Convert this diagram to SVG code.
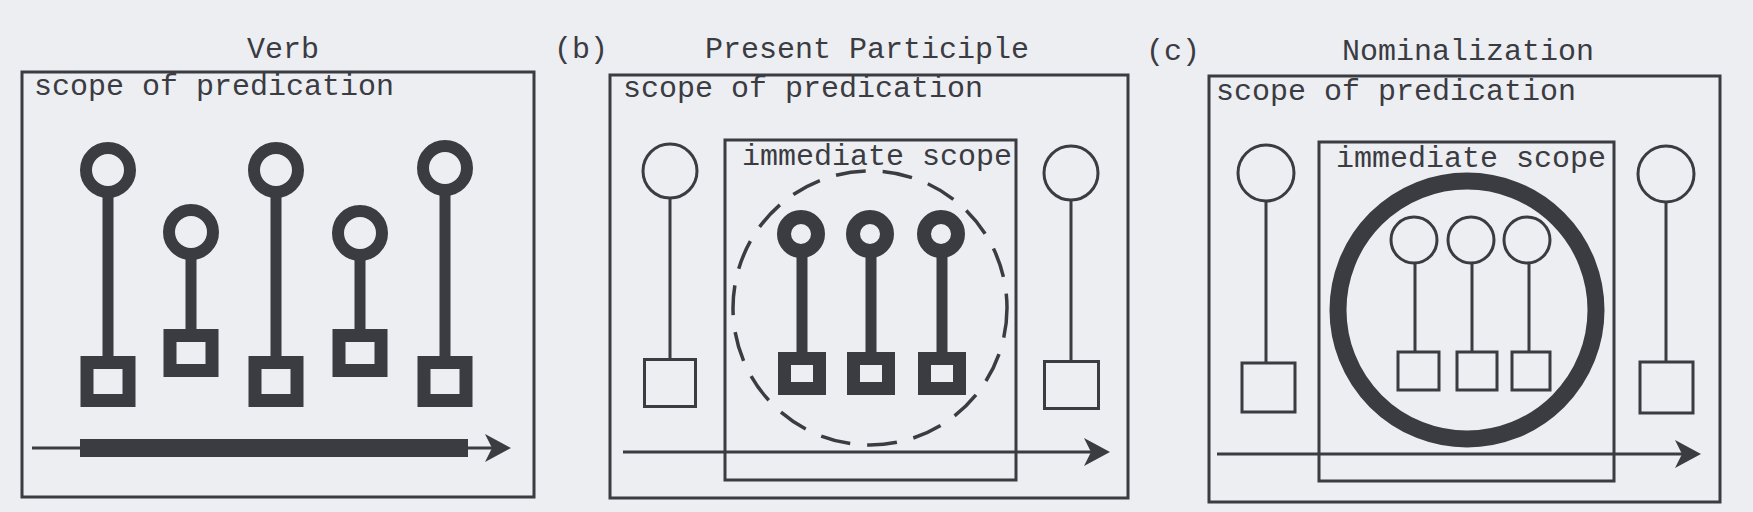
<svg xmlns="http://www.w3.org/2000/svg" width="1753" height="512" viewBox="0 0 1753 512">
<defs>
<style>
.bg{fill:#eceef2}
.box{fill:none;stroke:#3b3b42;stroke-width:3}
.txt{font-family:"Liberation Mono","Courier New",monospace;font-size:30px;fill:#3b3b42}
.ring{fill:none;stroke:#3b3b42;stroke-width:12}
.ringb{fill:none;stroke:#3b3b42;stroke-width:14}
.stem{stroke:#3b3b42;stroke-width:11}
.sq{fill:none;stroke:#3b3b42;stroke-width:13}
.tc{fill:none;stroke:#3b3b42;stroke-width:3}
.tl{stroke:#3b3b42;stroke-width:3}
.axis{stroke:#3b3b42;stroke-width:3;fill:none}
.ink{fill:#3b3b42}
</style>
<marker id="ah" markerUnits="userSpaceOnUse" markerWidth="28" markerHeight="30" refX="22" refY="14" orient="auto" viewBox="0 0 28 30">
<path d="M0,0 L26,14 L0,28 L7,14 Z" fill="#3b3b42"/>
</marker>
</defs>
<rect class="bg" x="0" y="0" width="1753" height="512"/>

<!-- Panel A -->
<g id="panelA">
<text class="txt" x="283" y="58" text-anchor="middle">Verb</text>
<rect class="box" x="22" y="72" width="512" height="425"/>
<text class="txt" x="34" y="95">scope of predication</text>
</g>
<g id="a1"><circle class="ring" cx="108" cy="170" r="22"/><line class="stem" x1="108" y1="192" x2="108" y2="358"/><rect class="sq" x="87" y="362.5" width="42" height="38"/></g>
<g id="a2"><circle class="ring" cx="191" cy="232" r="22"/><line class="stem" x1="191" y1="254" x2="191" y2="331"/><rect class="sq" x="170" y="335.5" width="42" height="35"/></g>
<g id="a3"><circle class="ring" cx="276" cy="170" r="22"/><line class="stem" x1="276" y1="192" x2="276" y2="358"/><rect class="sq" x="255" y="362.5" width="42" height="38"/></g>
<g id="a4"><circle class="ring" cx="360" cy="233" r="22"/><line class="stem" x1="360" y1="255" x2="360" y2="331"/><rect class="sq" x="339" y="335.5" width="42" height="35"/></g>
<g id="a5"><circle class="ring" cx="445" cy="168" r="22"/><line class="stem" x1="445" y1="190" x2="445" y2="358"/><rect class="sq" x="424" y="362.5" width="42" height="38"/></g>

<!-- Panel B -->
<g id="panelB">
<text class="txt" x="554" y="58">(b)</text>
<text class="txt" x="867" y="58" text-anchor="middle">Present Participle</text>
<rect class="box" x="610" y="75" width="518" height="423"/>
<text class="txt" x="623" y="97">scope of predication</text>
</g>
<g id="b-immediate">
<rect class="box" x="725" y="140" width="291" height="340"/>
<text class="txt" x="742" y="165">immediate scope</text>
<circle cx="870" cy="308" r="137" fill="none" stroke="#3b3b42" stroke-width="3.5" stroke-dasharray="30 17"/>
</g>
<g id="b1"><circle class="tc" cx="670" cy="171" r="27"/><line class="tl" x1="670" y1="198" x2="670" y2="359"/><rect class="tc" x="644.5" y="359.5" width="51" height="47"/></g>
<g id="b5"><circle class="tc" cx="1071" cy="173" r="27"/><line class="tl" x1="1071" y1="200" x2="1071" y2="361"/><rect class="tc" x="1044.5" y="361.5" width="54" height="47"/></g>
<g id="b2"><circle class="ringb" cx="801" cy="234" r="17"/><line class="stem" x1="802" y1="251" x2="802" y2="354"/><rect class="sq" x="784.5" y="358.5" width="35" height="30"/></g>
<g id="b3"><circle class="ringb" cx="870" cy="234" r="17"/><line class="stem" x1="871" y1="251" x2="871" y2="354"/><rect class="sq" x="853.5" y="358.5" width="35" height="30"/></g>
<g id="b4"><circle class="ringb" cx="941" cy="234" r="17"/><line class="stem" x1="942" y1="251" x2="942" y2="354"/><rect class="sq" x="924.5" y="358.5" width="35" height="30"/></g>

<!-- Panel C -->
<g id="panelC">
<text class="txt" x="1146" y="60">(c)</text>
<text class="txt" x="1468" y="60" text-anchor="middle">Nominalization</text>
<rect class="box" x="1209" y="76" width="511" height="426"/>
<text class="txt" x="1216" y="100">scope of predication</text>
</g>
<g id="c-immediate">
<rect class="box" x="1319" y="142" width="295" height="339"/>
<text class="txt" x="1336" y="167">immediate scope</text>
<circle cx="1467" cy="310" r="129" fill="none" stroke="#3b3b42" stroke-width="17"/>
</g>
<g id="c1"><circle class="tc" cx="1266" cy="173" r="28"/><line class="tl" x1="1266" y1="201" x2="1266" y2="363"/><rect class="tc" x="1242" y="363" width="53" height="49"/></g>
<g id="c5"><circle class="tc" cx="1666" cy="174" r="28"/><line class="tl" x1="1666" y1="202" x2="1666" y2="362"/><rect class="tc" x="1640" y="362" width="53" height="51"/></g>
<g id="c2"><circle class="tc" cx="1414" cy="240" r="23"/><line class="tl" x1="1415" y1="263" x2="1415" y2="352"/><rect class="tc" x="1398" y="352" width="41" height="38"/></g>
<g id="c3"><circle class="tc" cx="1471" cy="240" r="23"/><line class="tl" x1="1472" y1="263" x2="1472" y2="352"/><rect class="tc" x="1457" y="352" width="40" height="38"/></g>
<g id="c4"><circle class="tc" cx="1527" cy="240" r="23"/><line class="tl" x1="1529" y1="263" x2="1529" y2="352"/><rect class="tc" x="1512" y="352" width="38" height="38"/></g>

<!-- connectors: time arrows -->
<g id="connectors">
<line class="axis" x1="32" y1="448" x2="507" y2="448" marker-end="url(#ah)"/>
<rect class="ink" x="80" y="439" width="388" height="18"/>
<line class="axis" x1="623" y1="452" x2="1106" y2="452" marker-end="url(#ah)"/>
<line class="axis" x1="1217" y1="454" x2="1697" y2="454" marker-end="url(#ah)"/>
</g>
</svg>
